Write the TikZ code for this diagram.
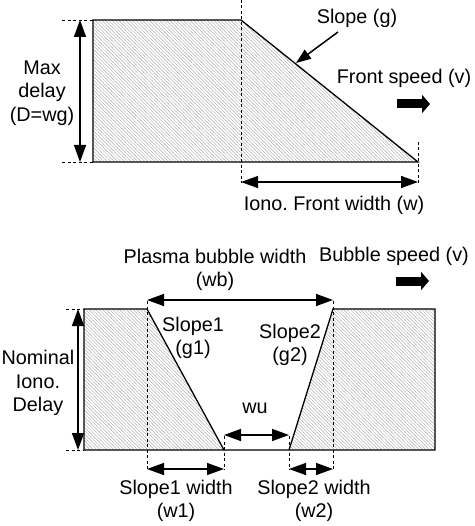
\documentclass[tikz,border=0pt]{standalone}
\usepackage{fontspec}
\setmainfont{Liberation Sans}
\usetikzlibrary{arrows.meta,patterns.meta}

\tikzset{
    lbl/.style={font=\fontsize{19.8}{23.5}\selectfont\frenchspacing, align=center, inner sep=0pt},
    edge/.style={line width=1.3pt, line join=miter},
    guide/.style={line width=0.9pt, dash pattern=on 3pt off 2.5pt},
    dim/.style={line width=1.5pt, {Triangle[length=17pt,width=12pt]}-{Triangle[length=17pt,width=12pt]}},
    hatch/.style={pattern={Lines[angle=-45,distance=2.4pt,line width=0.45pt]}, pattern color=gray!65},
    speed/.style={line width=9pt, -{Triangle[length=8pt,width=18pt]}}
}

\begin{document}
\begin{tikzpicture}[x=1pt,y=-1pt]
        \useasboundingbox (0,0) rectangle (474,526);
        % ionospheric front
        \coordinate (ftl) at (93,20);
        \coordinate (ftm) at (241,20);
        \coordinate (fbr) at (418,162);
        \coordinate (fbl) at (93,162);
        \draw[edge, hatch] (ftl) -- (ftm) -- (fbr) -- (fbl) -- cycle;
        \coordinate (ftop) at (241,0);
        \coordinate (fdl) at (241,183);
        \coordinate (fru) at (418,142);
        \coordinate (fdr) at (418,183);
        \draw[guide] (ftop) -- (fdl);
        \draw[guide] (fru) -- (fdr);
        \coordinate (fgl) at (62,20);
        \coordinate (fgb) at (62,162);
        \draw[guide] (fgl) -- (ftl);
        \draw[guide] (fgb) -- (fbl);
        \coordinate (fau) at (80,20);
        \coordinate (fab) at (80,162);
        \draw[dim] (fau) -- (fab);
        \coordinate (fwl) at (241,182);
        \coordinate (fwr) at (418,182);
        \draw[dim] (fwl) -- (fwr);
        \node[lbl] (maxd) at (42,93) {Max\\delay\\(D=wg)};
        \node[lbl] (slg) at (357,18) {Slope (g)};
        \coordinate (sltail) at (338,32);
        \coordinate (sltip) at (296,63);
        \draw[line width=1.5pt, -{Triangle[length=15pt,width=11pt]}] (sltail) -- (sltip);
        \node[lbl] (fsp) at (404,78) {Front speed (v)};
        \coordinate (fsa) at (397,104);
        \coordinate (fsb) at (430,104);
        \draw[speed] (fsa) -- (fsb);
        \node[lbl] (ifw) at (334,205) {Iono. Front width (w)};
        % plasma bubble
        \coordinate (btl) at (84,309);
        \coordinate (bbl) at (84,450);
        \coordinate (btr) at (435,309);
        \coordinate (bbr) at (435,450);
        \coordinate (s1t) at (147,309);
        \coordinate (s1b) at (224,450);
        \coordinate (s2b) at (289,450);
        \coordinate (s2t) at (333,309);
        \fill[hatch] (btl) -- (s1t) -- (s1b) -- (bbl) -- cycle;
        \fill[hatch] (s2b) -- (s2t) -- (btr) -- (bbr) -- cycle;
        \draw[edge] (s1t) -- (btl) -- (bbl) -- (bbr) -- (btr) -- (s2t) -- (s2b);
        \draw[edge] (s1t) -- (s1b);
        \coordinate (g1u) at (147,301);
        \coordinate (g1d) at (147,470);
        \coordinate (g2u) at (224,436);
        \coordinate (g2d) at (224,470);
        \coordinate (g3u) at (289,436);
        \coordinate (g3d) at (289,470);
        \coordinate (g4u) at (333,301);
        \coordinate (g4d) at (333,470);
        \draw[guide] (g1u) -- (g1d);
        \draw[guide] (g2u) -- (g2d);
        \draw[guide] (g3u) -- (g3d);
        \draw[guide] (g4u) -- (g4d);
        \coordinate (bgl) at (66,309);
        \coordinate (bgb) at (66,450);
        \draw[guide] (bgl) -- (btl);
        \draw[guide] (bgb) -- (bbl);
        \coordinate (bau) at (78,309);
        \coordinate (bab) at (78,450);
        \draw[dim] (bau) -- (bab);
        \coordinate (wbl) at (147,300);
        \coordinate (wbr) at (333,300);
        \draw[dim] (wbl) -- (wbr);
        \coordinate (wul) at (224,435);
        \coordinate (wur) at (289,435);
        \draw[dim] (wul) -- (wur);
        \coordinate (w1l) at (147,469);
        \coordinate (w1r) at (224,469);
        \draw[dim] (w1l) -- (w1r);
        \coordinate (w2l) at (289,469);
        \coordinate (w2r) at (333,469);
        \draw[dim] (w2l) -- (w2r);
        \node[lbl] (pbw) at (215,270) {Plasma bubble width\\(wb)};
        \node[lbl] (bsp) at (394,256) {Bubble speed (v)};
        \coordinate (bsa) at (396,281);
        \coordinate (bsb) at (429,281);
        \draw[speed] (bsa) -- (bsb);
        \node[lbl] (sl1) at (193,338) {Slope1\\(g1)};
        \node[lbl] (sl2) at (290,345) {Slope2\\(g2)};
        \node[lbl] (nid) at (38,383) {Nominal\\Iono.\\Delay};
        \node[lbl] (wu) at (255,408) {wu};
        \node[lbl] (sw1) at (176,501) {Slope1 width\\(w1)};
        \node[lbl] (sw2) at (314,501) {Slope2 width\\(w2)};
\end{tikzpicture}
\end{document}
